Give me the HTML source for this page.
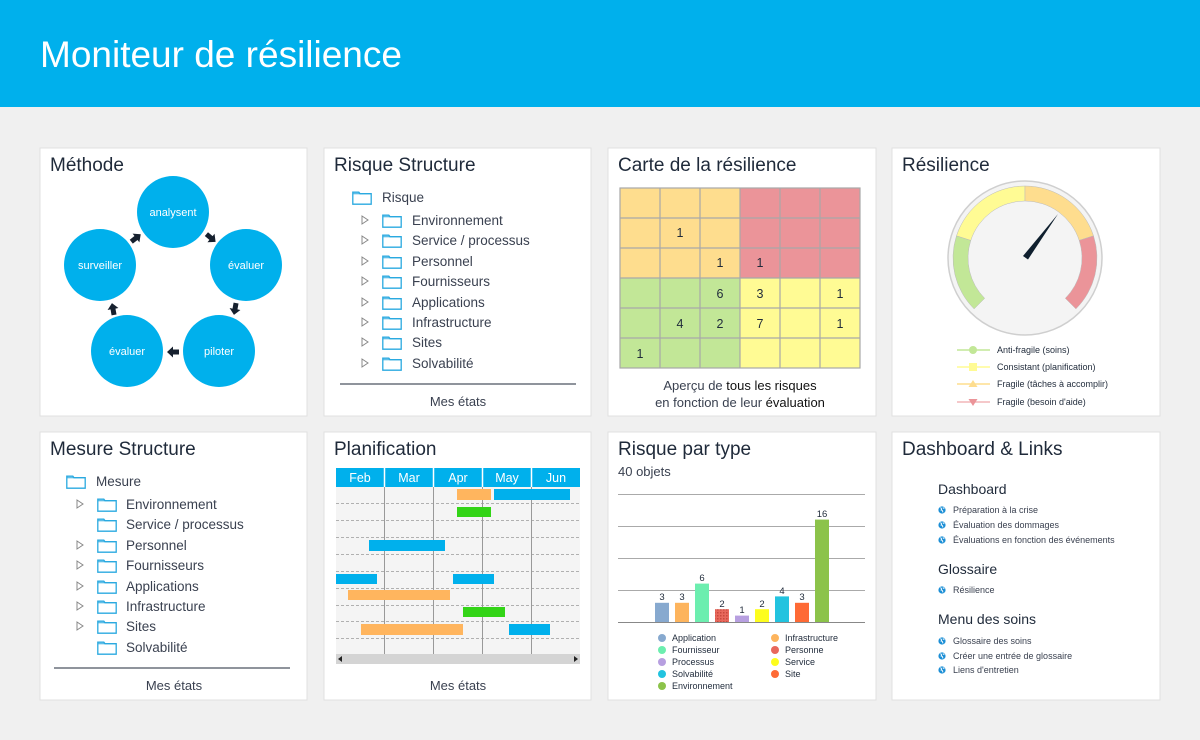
<!DOCTYPE html>
<html><head><meta charset="utf-8"><style>
html,body{margin:0;padding:0;width:1200px;height:740px;overflow:hidden;background:#f0f0f0}
svg{display:block;font-family:"Liberation Sans",sans-serif}
</style></head><body>
<svg width="1200" height="740" viewBox="0 0 1200 740" xmlns="http://www.w3.org/2000/svg">
<defs>
<symbol id="f" viewBox="0 0 20 15"><path d="M0.8,2.2 h6 l1.2,1.5 h11.2 v10.5 h-18.4 z" fill="#fff" stroke="#2aa9e0" stroke-width="1.3"/><path d="M0.8,3.7 h18.4" stroke="#2aa9e0" stroke-width="1"/></symbol>
<symbol id="t" viewBox="0 0 8 10"><path d="M1,1 L7,5 L1,9 z" fill="none" stroke="#888" stroke-width="1"/></symbol>
<symbol id="g" viewBox="0 0 10 10"><circle cx="5" cy="5" r="4.5" fill="#1c8fd6"/><path d="M3,2 q2,1 1,3 q2,0 2,3 M6,2 q1,1 2,1" stroke="#fff" stroke-width="1.2" fill="none"/></symbol>
<path id="ar" d="M-6,-2.5 H0 V-5.5 L6,0 L0,5.5 V2.5 H-6 Z" fill="#16202e"/>
<pattern id="h" width="3" height="3" patternUnits="userSpaceOnUse"><rect width="3" height="3" fill="#e8685c"/><rect width="1.5" height="1.5" fill="#c8483c"/></pattern>
</defs>
<rect x="0" y="0" width="1200" height="107" fill="#00b0ec"/>
<text x="40" y="67" font-size="37" fill="#fff">Moniteur de résilience</text>

<g fill="#fff" stroke="#e0e0e0">
<rect x="40" y="148" width="267" height="268"/><rect x="324" y="148" width="267" height="268"/><rect x="608" y="148" width="268" height="268"/><rect x="892" y="148" width="268" height="268"/>
<rect x="40" y="432" width="267" height="268"/><rect x="324" y="432" width="267" height="268"/><rect x="608" y="432" width="268" height="268"/><rect x="892" y="432" width="268" height="268"/>
</g>
<g font-size="19" fill="#1f2a3a">
<text x="50" y="171">Méthode</text><text x="334" y="171">Risque Structure</text><text x="618" y="171">Carte de la résilience</text><text x="902" y="171">Résilience</text>
<text x="50" y="455">Mesure Structure</text><text x="334" y="455">Planification</text><text x="618" y="455">Risque par type</text><text x="902" y="455">Dashboard &amp; Links</text>
</g>

<!-- Methode -->
<g fill="#00b0ec"><circle cx="173" cy="212" r="36"/><circle cx="246" cy="265" r="36"/><circle cx="219" cy="351" r="36"/><circle cx="127" cy="351" r="36"/><circle cx="100" cy="265" r="36"/></g>
<g fill="#fff" font-size="11" text-anchor="middle"><text x="173" y="216">analysent</text><text x="246" y="269">évaluer</text><text x="219" y="355">piloter</text><text x="127" y="355">évaluer</text><text x="100" y="269">surveiller</text></g>
<use href="#ar" transform="translate(211,238) rotate(40)"/>
<use href="#ar" transform="translate(235,309) rotate(100)"/>
<use href="#ar" transform="translate(173,352) rotate(180)"/>
<use href="#ar" transform="translate(113,309) rotate(-100)"/>
<use href="#ar" transform="translate(136,238) rotate(-38)"/>

<!-- Risque Structure -->
<g font-size="13.5" fill="#3a4150">
<use href="#f" x="352" y="190" width="20" height="15"/><text x="382" y="202">Risque</text>
<use href="#t" x="361" y="215" width="8" height="10"/><use href="#f" x="382" y="213" width="20" height="15"/><text x="412" y="225">Environnement</text>
<use href="#t" x="361" y="235" width="8" height="10"/><use href="#f" x="382" y="233" width="20" height="15"/><text x="412" y="245">Service / processus</text>
<use href="#t" x="361" y="256" width="8" height="10"/><use href="#f" x="382" y="254" width="20" height="15"/><text x="412" y="266">Personnel</text>
<use href="#t" x="361" y="276" width="8" height="10"/><use href="#f" x="382" y="274" width="20" height="15"/><text x="412" y="286">Fournisseurs</text>
<use href="#t" x="361" y="297" width="8" height="10"/><use href="#f" x="382" y="295" width="20" height="15"/><text x="412" y="307">Applications</text>
<use href="#t" x="361" y="317" width="8" height="10"/><use href="#f" x="382" y="315" width="20" height="15"/><text x="412" y="327">Infrastructure</text>
<use href="#t" x="361" y="337" width="8" height="10"/><use href="#f" x="382" y="335" width="20" height="15"/><text x="412" y="347">Sites</text>
<use href="#t" x="361" y="358" width="8" height="10"/><use href="#f" x="382" y="356" width="20" height="15"/><text x="412" y="368">Solvabilité</text>
</g>
<line x1="340" y1="384" x2="576" y2="384" stroke="#1f2a3a"/>
<text x="458" y="406" font-size="13" fill="#3a4150" text-anchor="middle">Mes états</text>

<!-- Mesure Structure -->
<g font-size="13.5" fill="#3a4150">
<use href="#f" x="66" y="474" width="20" height="15"/><text x="96" y="486">Mesure</text>
<use href="#t" x="76" y="499" width="8" height="10"/><use href="#f" x="97" y="497" width="20" height="15"/><text x="126" y="509">Environnement</text>
<use href="#f" x="97" y="517" width="20" height="15"/><text x="126" y="529">Service / processus</text>
<use href="#t" x="76" y="540" width="8" height="10"/><use href="#f" x="97" y="538" width="20" height="15"/><text x="126" y="550">Personnel</text>
<use href="#t" x="76" y="560" width="8" height="10"/><use href="#f" x="97" y="558" width="20" height="15"/><text x="126" y="570">Fournisseurs</text>
<use href="#t" x="76" y="581" width="8" height="10"/><use href="#f" x="97" y="579" width="20" height="15"/><text x="126" y="591">Applications</text>
<use href="#t" x="76" y="601" width="8" height="10"/><use href="#f" x="97" y="599" width="20" height="15"/><text x="126" y="611">Infrastructure</text>
<use href="#t" x="76" y="621" width="8" height="10"/><use href="#f" x="97" y="619" width="20" height="15"/><text x="126" y="631">Sites</text>
<use href="#f" x="97" y="640" width="20" height="15"/><text x="126" y="652">Solvabilité</text>
</g>
<line x1="54" y1="668" x2="290" y2="668" stroke="#1f2a3a"/>
<text x="174" y="690" font-size="13" fill="#3a4150" text-anchor="middle">Mes états</text>

<!-- Heatmap -->
<rect x="620" y="188" width="120" height="90" fill="#fedd8e"/>
<rect x="740" y="188" width="120" height="90" fill="#eb9499"/>
<rect x="620" y="278" width="120" height="90" fill="#c2e797"/>
<rect x="740" y="278" width="120" height="90" fill="#fffb94"/>
<g stroke="#a8a8a8" stroke-width="1.2" fill="none">
<rect x="620" y="188" width="240" height="180"/>
<path d="M660,188V368M700,188V368M740,188V368M780,188V368M820,188V368M620,218H860M620,248H860M620,278H860M620,308H860M620,338H860"/>
</g>
<g font-size="12.5" fill="#1f2a3a" text-anchor="middle">
<text x="680" y="237">1</text><text x="720" y="267">1</text><text x="760" y="267">1</text>
<text x="720" y="298">6</text><text x="760" y="298">3</text><text x="840" y="298">1</text>
<text x="680" y="328">4</text><text x="720" y="328">2</text><text x="760" y="328">7</text><text x="840" y="328">1</text>
<text x="640" y="358">1</text>
</g>
<g font-size="13" fill="#3a4150" text-anchor="middle">
<text x="740" y="390">Aperçu de <tspan fill="#111">tous les risques</tspan></text>
<text x="740" y="407">en fonction de leur <tspan fill="#111">évaluation</tspan></text>
</g>

<!-- Gauge -->
<circle cx="1025" cy="258" r="77" fill="#f4f4f4" stroke="#cfcfcf" stroke-width="1.5"/>
<g stroke="#bbb" stroke-width="0.5">
<path d="M974.1,308.9 A72,72 0 0 1 956.5,235.8 L970.8,240.4 A57,57 0 0 0 984.7,298.3 Z" fill="#c2e797"/>
<path d="M956.5,235.8 A72,72 0 0 1 1025,186 L1025,201 A57,57 0 0 0 970.8,240.4 Z" fill="#fffb94"/>
<path d="M1025,186 A72,72 0 0 1 1093.5,235.8 L1079.2,240.4 A57,57 0 0 0 1025,201 Z" fill="#fedd8e"/>
<path d="M1093.5,235.8 A72,72 0 0 1 1075.9,308.9 L1065.3,298.3 A57,57 0 0 0 1079.2,240.4 Z" fill="#eb9499"/>
</g>
<path d="M1058,214 L1028,259.5 L1023,256 Z" fill="#0f1f2e"/>
<g font-size="9" fill="#1f2a3a">
<line x1="957" y1="350" x2="990" y2="350" stroke="#c2e797" stroke-width="1.5"/><circle cx="973" cy="350" r="4" fill="#c2e797"/><text x="997" y="353">Anti-fragile (soins)</text>
<line x1="957" y1="367" x2="990" y2="367" stroke="#fffb94" stroke-width="1.5"/><rect x="969" y="363" width="8" height="8" fill="#fffb94"/><text x="997" y="370">Consistant (planification)</text>
<line x1="957" y1="384" x2="990" y2="384" stroke="#fedd8e" stroke-width="1.5"/><path d="M973,380 l4.5,7 h-9 z" fill="#fedd8e"/><text x="997" y="387">Fragile (tâches à accomplir)</text>
<line x1="957" y1="402" x2="990" y2="402" stroke="#f2b6b8" stroke-width="1.5"/><path d="M973,406 l4.5,-7 h-9 z" fill="#eb9499"/><text x="997" y="405">Fragile (besoin d'aide)</text>
</g>

<!-- Gantt -->
<rect x="336" y="487" width="244" height="167" fill="#f4f4f4"/>
<rect x="336" y="468" width="244" height="19" fill="#00b0ec"/>
<g stroke="#fff" stroke-width="1.5"><path d="M384.5,468V487M433.5,468V487M482.5,468V487M531.5,468V487"/></g>
<g font-size="12.5" fill="#fff" text-anchor="middle"><text x="360" y="482">Feb</text><text x="409" y="482">Mar</text><text x="458" y="482">Apr</text><text x="507" y="482">May</text><text x="556" y="482">Jun</text></g>
<g stroke="#999" stroke-dasharray="3,2" stroke-width="0.8"><path d="M336,503.5H580M336,520.5H580M336,537.5H580M336,554.5H580M336,571.5H580M336,588.5H580M336,605.5H580M336,621.5H580M336,638.5H580"/></g>
<g stroke="#999" stroke-width="1"><path d="M384.5,487V654M433.5,487V654M482.5,487V654M531.5,487V654"/></g>
<g>
<rect x="457" y="489" width="34" height="11" fill="#ffb55e"/><rect x="494" y="489" width="76" height="11" fill="#00b0ec"/>
<rect x="457" y="507" width="34" height="10" fill="#33d417"/>
<rect x="369" y="540" width="76" height="11" fill="#00b0ec"/>
<rect x="336" y="574" width="41" height="10" fill="#00b0ec"/><rect x="453" y="574" width="41" height="10" fill="#00b0ec"/>
<rect x="348" y="590" width="102" height="10" fill="#ffb55e"/>
<rect x="463" y="607" width="42" height="10" fill="#33d417"/>
<rect x="361" y="624" width="102" height="11" fill="#ffb55e"/><rect x="509" y="624" width="41" height="11" fill="#00b0ec"/>
</g>
<rect x="336" y="654" width="244" height="10" fill="#d4d4d4"/>
<path d="M338,659 l4,-3 v6 z M578,659 l-4,-3 v6 z" fill="#222"/>
<text x="458" y="690" font-size="13" fill="#3a4150" text-anchor="middle">Mes états</text>

<!-- Bar chart -->
<text x="618" y="476" font-size="13" fill="#3a4150">40 objets</text>
<g stroke="#aaa" stroke-width="1"><path d="M618,494.5H865M618,526.5H865M618,558.5H865M618,590.5H865"/></g>
<rect x="655" y="602.8" width="14" height="19.2" fill="#87a9cf"/>
<rect x="675" y="602.8" width="14" height="19.2" fill="#fdb45d"/>
<rect x="695" y="583.6" width="14" height="38.4" fill="#6ceeaf"/>
<rect x="715" y="609.2" width="14" height="12.8" fill="url(#h)"/>
<rect x="735" y="615.6" width="14" height="6.4" fill="#b79fe0"/>
<rect x="755" y="609.2" width="14" height="12.8" fill="#fdfd1e"/>
<rect x="775" y="596.4" width="14" height="25.6" fill="#22c3df"/>
<rect x="795" y="602.8" width="14" height="19.2" fill="#fe6a35"/>
<rect x="815" y="519.6" width="14" height="102.4" fill="#8cc34a"/>
<line x1="618" y1="622.5" x2="865" y2="622.5" stroke="#888"/>
<g font-size="9.5" fill="#1f2a3a" text-anchor="middle">
<text x="662" y="600">3</text><text x="682" y="600">3</text><text x="702" y="581">6</text><text x="722" y="607">2</text><text x="742" y="613">1</text><text x="762" y="607">2</text><text x="782" y="594">4</text><text x="802" y="600">3</text><text x="822" y="517">16</text>
</g>
<g font-size="9" fill="#1f2a3a">
<circle cx="662" cy="638" r="4" fill="#87a9cf"/><text x="672" y="641">Application</text>
<circle cx="775" cy="638" r="4" fill="#fdb45d"/><text x="785" y="641">Infrastructure</text>
<circle cx="662" cy="650" r="4" fill="#6ceeaf"/><text x="672" y="653">Fournisseur</text>
<circle cx="775" cy="650" r="4" fill="#e8685c"/><text x="785" y="653">Personne</text>
<circle cx="662" cy="662" r="4" fill="#b79fe0"/><text x="672" y="665">Processus</text>
<circle cx="775" cy="662" r="4" fill="#fdfd1e"/><text x="785" y="665">Service</text>
<circle cx="662" cy="674" r="4" fill="#22c3df"/><text x="672" y="677">Solvabilité</text>
<circle cx="775" cy="674" r="4" fill="#fe6a35"/><text x="785" y="677">Site</text>
<circle cx="662" cy="686" r="4" fill="#8cc34a"/><text x="672" y="689">Environnement</text>
</g>

<!-- Dashboard -->
<g font-size="14" fill="#1f2a3a"><text x="938" y="494">Dashboard</text><text x="938" y="574">Glossaire</text><text x="938" y="624">Menu des soins</text></g>
<g font-size="9" fill="#3a4150">
<use href="#g" x="938" y="506" width="8" height="8"/><text x="953" y="513">Préparation à la crise</text>
<use href="#g" x="938" y="521" width="8" height="8"/><text x="953" y="528">Évaluation des dommages</text>
<use href="#g" x="938" y="536" width="8" height="8"/><text x="953" y="543">Évaluations en fonction des événements</text>
<use href="#g" x="938" y="586" width="8" height="8"/><text x="953" y="593">Résilience</text>
<use href="#g" x="938" y="637" width="8" height="8"/><text x="953" y="644">Glossaire des soins</text>
<use href="#g" x="938" y="652" width="8" height="8"/><text x="953" y="659">Créer une entrée de glossaire</text>
<use href="#g" x="938" y="666" width="8" height="8"/><text x="953" y="673">Liens d'entretien</text>
</g>
</svg>
</body></html>
